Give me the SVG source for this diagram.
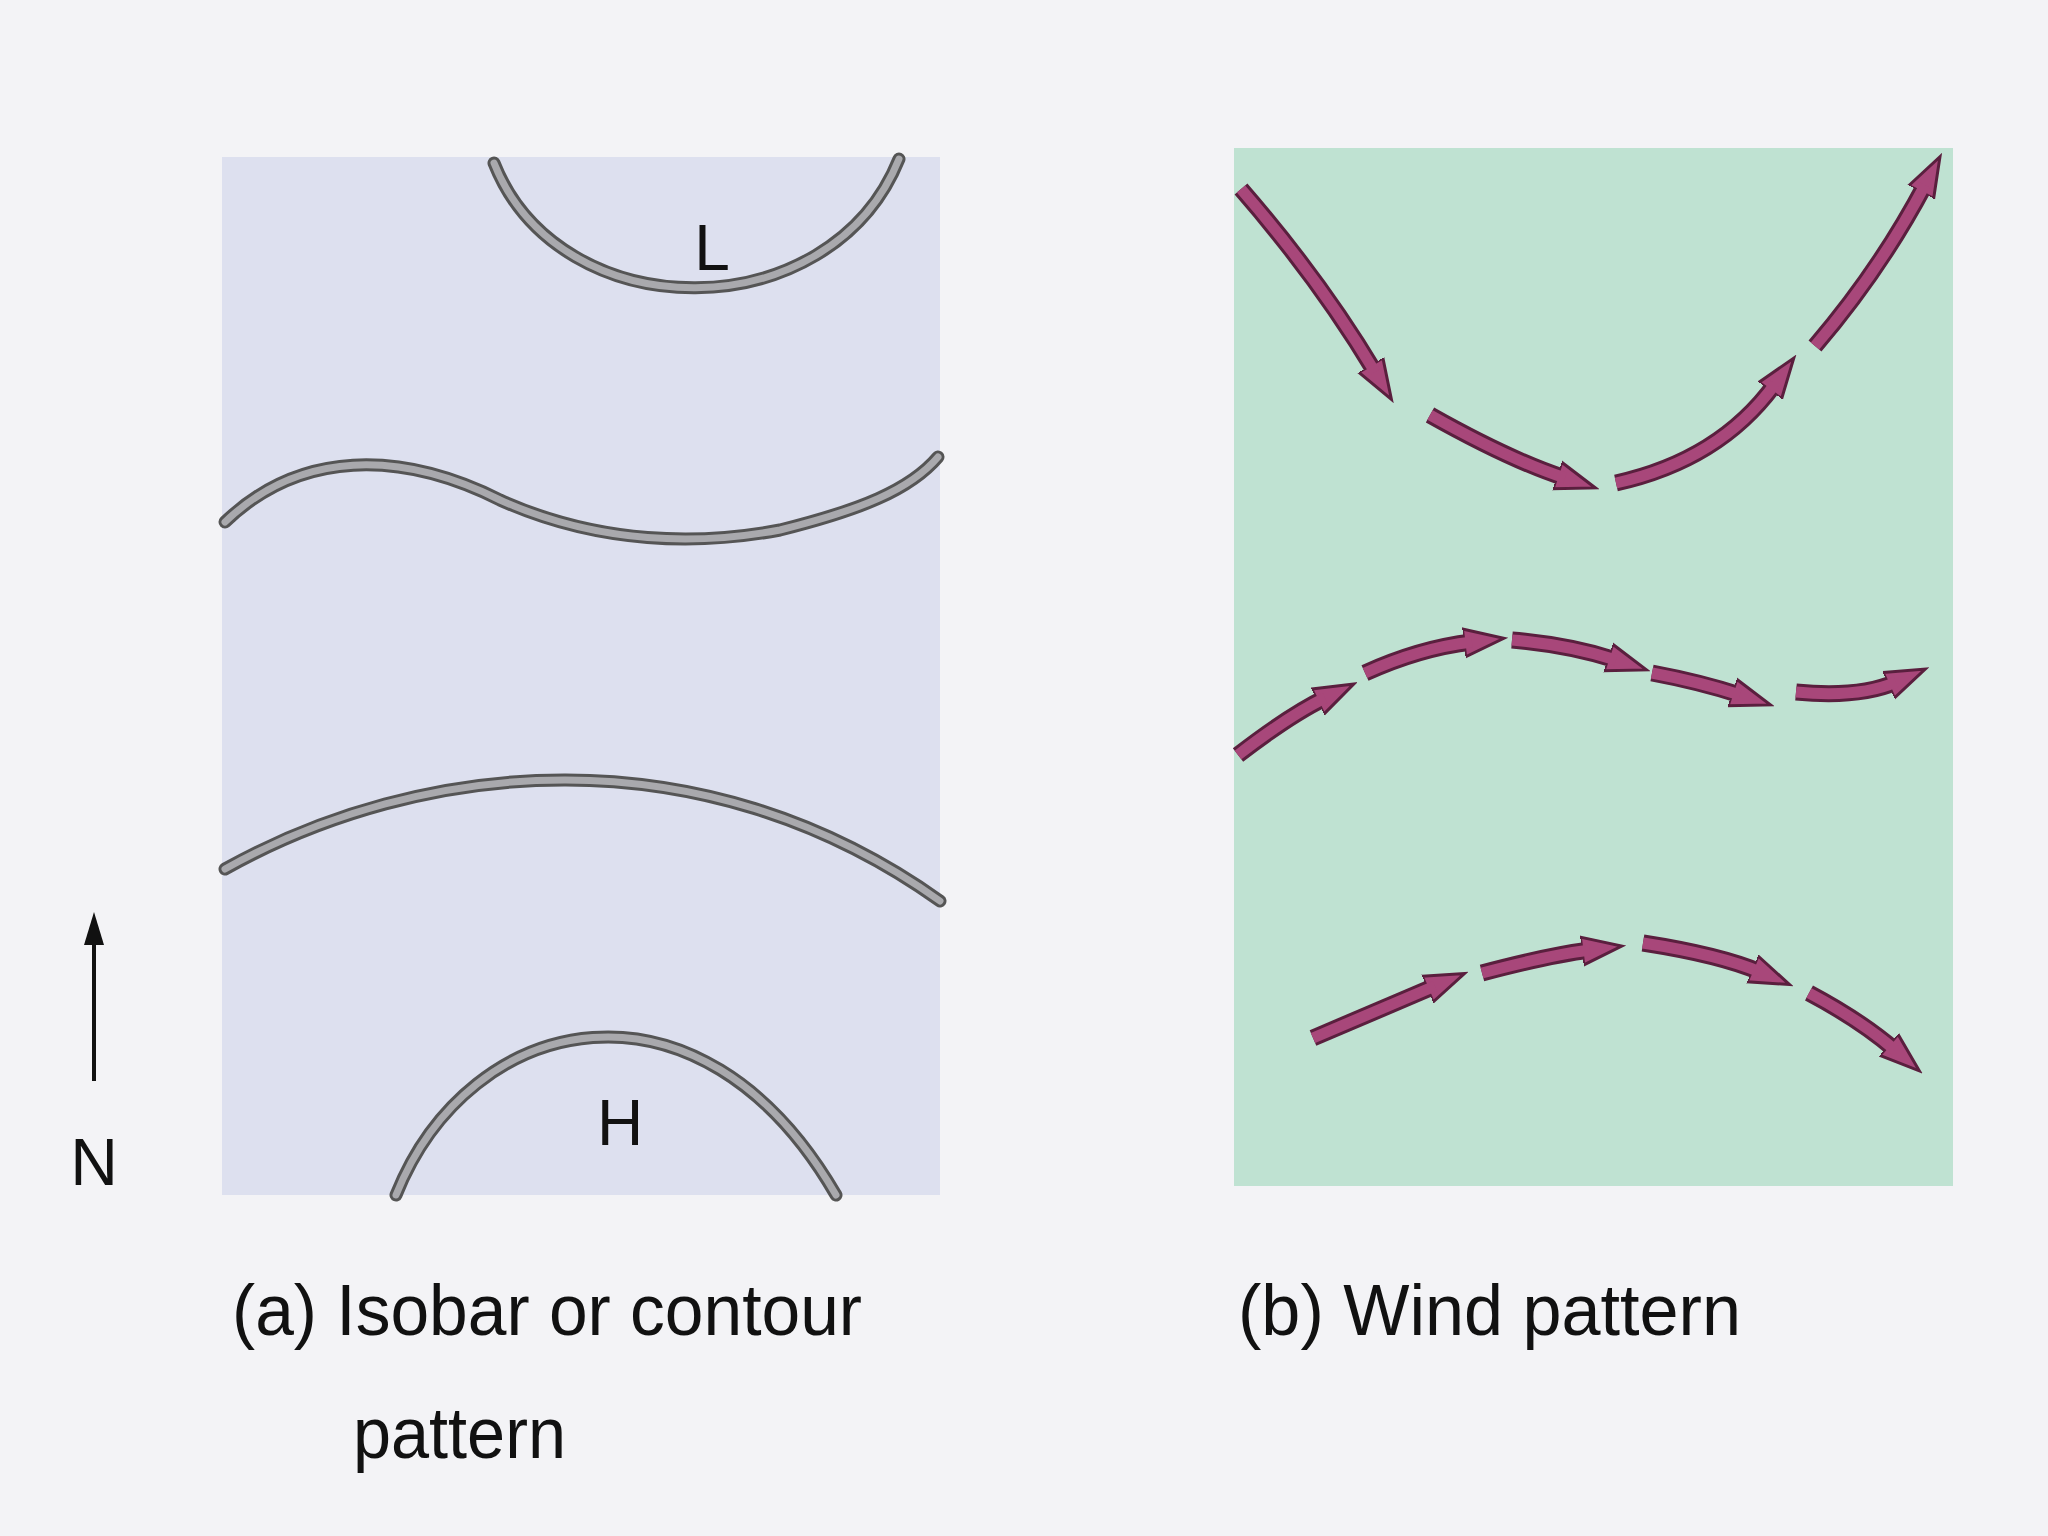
<svg xmlns="http://www.w3.org/2000/svg" width="2048" height="1536" viewBox="0 0 2048 1536">
<style>
.iso{fill:none;stroke:#555;stroke-width:13;stroke-linecap:round}
.iso2{fill:none;stroke:#a9a9ad;stroke-width:7;stroke-linecap:round}
.wo{fill:none;stroke:#5a1f3e;stroke-width:17}
.wi{fill:none;stroke:#a8477a;stroke-width:11}
.t{font-family:"Liberation Sans Narrow","Liberation Sans",sans-serif;fill:#111}
</style>
<defs>
<marker id="ah" markerUnits="userSpaceOnUse" markerWidth="44" markerHeight="34" refX="8" refY="17" orient="auto">
<path d="M0,3 L40,17 L0,31 Z" fill="#a8477a" stroke="#5a1f3e" stroke-width="3"/>
</marker>
</defs>
<rect width="2048" height="1536" fill="#f3f3f6"/>
<g id="panel-a">
<rect x="222" y="157" width="718" height="1038" fill="#dde0ef"/>
</g>
<g id="panel-b">
<rect x="1234" y="148" width="719" height="1038" fill="#bfe2d2"/>
</g>
<g id="isobars">
<path class="iso" d="M494,163 C560,330 830,330 899,159"/>
<path class="iso2" d="M494,163 C560,330 830,330 899,159"/>
<path class="iso" d="M225,522 C300,450 400,450 500,500 C600,545 700,545 780,530 C860,510 910,490 938,457"/>
<path class="iso2" d="M225,522 C300,450 400,450 500,500 C600,545 700,545 780,530 C860,510 910,490 938,457"/>
<path class="iso" d="M225,869 C420,760 700,730 940,901"/>
<path class="iso2" d="M225,869 C420,760 700,730 940,901"/>
<path class="iso" d="M396,1195 C470,1010 700,960 836,1195"/>
<path class="iso2" d="M396,1195 C470,1010 700,960 836,1195"/>
</g>
<g id="labels-a">
<text class="t" x="712" y="270" font-size="64" text-anchor="middle">L</text>
<text class="t" x="620" y="1145" font-size="64" text-anchor="middle">H</text>
<line x1="94" y1="1081" x2="94" y2="940" stroke="#111" stroke-width="4"/>
<path d="M84,945 L94,912 L104,945 Z" fill="#111"/>
<text class="t" x="94" y="1185" font-size="66" text-anchor="middle">N</text>
</g>
<g id="wind">
<g marker-end="url(#ah)">
<path class="wo" d="M1241,189 Q1320,280 1375,372"/>
<path class="wo" d="M1430,415 Q1510,460 1565,478"/>
<path class="wo" d="M1616,483 Q1720,460 1775,384"/>
<path class="wo" d="M1815,346 Q1880,270 1925,185"/>
<path class="wo" d="M1238,755 Q1290,715 1325,698"/>
<path class="wo" d="M1365,673 Q1420,648 1472,642"/>
<path class="wo" d="M1512,640 Q1570,645 1616,660"/>
<path class="wo" d="M1652,673 Q1700,682 1740,695"/>
<path class="wo" d="M1796,692 Q1860,698 1896,682"/>
<path class="wo" d="M1313,1038 Q1390,1005 1435,986"/>
<path class="wo" d="M1482,973 Q1550,955 1590,950"/>
<path class="wo" d="M1643,943 Q1720,955 1760,972"/>
<path class="wo" d="M1809,993 Q1860,1020 1895,1050"/>
</g>
<path class="wi" d="M1241,189 Q1320,280 1375,372"/>
<path class="wi" d="M1430,415 Q1510,460 1565,478"/>
<path class="wi" d="M1616,483 Q1720,460 1775,384"/>
<path class="wi" d="M1815,346 Q1880,270 1925,185"/>
<path class="wi" d="M1238,755 Q1290,715 1325,698"/>
<path class="wi" d="M1365,673 Q1420,648 1472,642"/>
<path class="wi" d="M1512,640 Q1570,645 1616,660"/>
<path class="wi" d="M1652,673 Q1700,682 1740,695"/>
<path class="wi" d="M1796,692 Q1860,698 1896,682"/>
<path class="wi" d="M1313,1038 Q1390,1005 1435,986"/>
<path class="wi" d="M1482,973 Q1550,955 1590,950"/>
<path class="wi" d="M1643,943 Q1720,955 1760,972"/>
<path class="wi" d="M1809,993 Q1860,1020 1895,1050"/>
</g>
<g id="captions">
<text class="t" x="232" y="1335" font-size="72" textLength="630" lengthAdjust="spacingAndGlyphs">(a) Isobar or contour</text>
<text class="t" x="353" y="1458" font-size="72" textLength="213" lengthAdjust="spacingAndGlyphs">pattern</text>
<text class="t" x="1238" y="1335" font-size="72" textLength="503" lengthAdjust="spacingAndGlyphs">(b) Wind pattern</text>
</g>
</svg>
